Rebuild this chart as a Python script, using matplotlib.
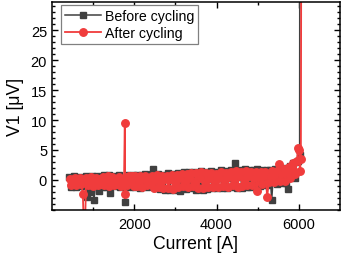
#!/usr/bin/env python3
"""
V1 voltage versus current, before and after cycling
"""

import matplotlib
matplotlib.use("Agg")
import matplotlib.pyplot as plt
from matplotlib.ticker import FixedLocator, MultipleLocator

plt.rcParams['font.family'] = ['Liberation Sans', 'DejaVu Sans']

# before cycling : current [A] and V1 [uV]
current_before = [420, 460, 500, 540, 580, 620, 660, 700, 740, 780,
                  820, 860, 900, 940, 980, 1020, 1060, 1100, 1140, 1180,
                  1220, 1260, 1300, 1340, 1380, 1420, 1460, 1500, 1540, 1580,
                  1620, 1660, 1700, 1740, 1780, 1820, 1860, 1900, 1940, 1980,
                  2020, 2060, 2100, 2140, 2180, 2220, 2260, 2300, 2340, 2380,
                  2420, 2460, 2500, 2540, 2580, 2620, 2660, 2700, 2740, 2780,
                  2820, 2860, 2900, 2940, 2980, 3020, 3060, 3100, 3140, 3180,
                  3220, 3260, 3300, 3340, 3380, 3420, 3460, 3500, 3540, 3580,
                  3620, 3660, 3700, 3740, 3780, 3820, 3860, 3900, 3940, 3980,
                  4020, 4060, 4100, 4140, 4180, 4220, 4260, 4300, 4340, 4380,
                  4420, 4460, 4500, 4540, 4580, 4620, 4660, 4700, 4740, 4780,
                  4820, 4860, 4900, 4940, 4980, 5020, 5060, 5100, 5140, 5180,
                  5220, 5260, 5300, 5340, 5380, 5420, 5460, 5500, 5540, 5580,
                  5620, 5660, 5700, 5740, 5780, 5820, 5860, 5900, 5940, 5980,
                  6020, 6025]
v1_before = [0.5, -1.1, -0.2, 0.6, -1.2, -0.4, 0.5, -1.0, 0.2, -0.8,
             0.6, -2.8, -0.1, -2.0, 0.7, -3.3, -0.5, 0.7, -1.8, 0.2,
             -1.1, 0.8, -0.3, -1.2, 0.8, -2.1, 0.3, -1.0, 0.7, -0.4,
             0.8, -1.2, 0.1, -0.8, -3.7, 0.8, 0.4, -1.2, 0.0, 0.8,
             -1.2, 0.9, -0.1, -1.3, 0.8, -0.4, 1.0, -1.1, 0.3, -0.8,
             1.0, 1.8, -1.4, 0.2, 1.0, -1.5, -0.4, 0.9, -1.6, 0.4,
             1.1, -1.7, 0.1, 1.0, -1.6, -0.5, 1.2, -1.8, 0.3, -1.1,
             1.3, -1.5, 0.0, 1.4, -1.3, -0.4, 1.3, -1.6, 0.2, -1.0,
             1.5, -1.6, -0.3, 1.4, -1.5, 0.2, 1.5, -1.4, -0.2, 1.3,
             -1.4, 0.3, 1.6, -1.3, -0.1, 1.5, -1.4, 0.4, 1.6, -1.2,
             0.1, 2.9, -1.3, 0.5, 1.7, -1.3, 0.0, 1.8, -1.2, 1.6,
             -1.1, 0.3, 1.6, -0.9, 1.9, 0.4, -1.0, 1.7, -0.8, 0.5,
             1.7, -0.8, 1.6, -3.4, 0.6, 1.8, -0.6, 0.4, 1.9, -0.5,
             2.0, 0.5, -0.5, -1.5, 2.3, 0.9, 2.8, 0.3, 3.0, 3.2,
             4.2, 60.0]

# after cycling
current_after = [430, 470, 510, 550, 590, 630, 670, 710, 750, 790,
                 830, 870, 910, 950, 990, 1030, 1070, 1110, 1150, 1190,
                 1230, 1270, 1310, 1350, 1390, 1430, 1470, 1510, 1550, 1590,
                 1630, 1670, 1710, 1750, 1770, 1780, 1790, 1830, 1870, 1910, 1950, 1990,
                 2030, 2070, 2110, 2150, 2190, 2230, 2270, 2310, 2350, 2390,
                 2430, 2470, 2510, 2550, 2590, 2630, 2670, 2710, 2750, 2790,
                 2830, 2870, 2910, 2950, 2990, 3030, 3070, 3110, 3150, 3190,
                 3230, 3270, 3310, 3350, 3390, 3430, 3470, 3510, 3550, 3590,
                 3630, 3670, 3710, 3750, 3790, 3830, 3870, 3910, 3950, 3990,
                 4030, 4070, 4110, 4150, 4190, 4230, 4270, 4310, 4350, 4390,
                 4430, 4470, 4510, 4550, 4590, 4630, 4670, 4710, 4750, 4790,
                 4830, 4870, 4910, 4950, 4990, 5030, 5070, 5110, 5150, 5190,
                 5230, 5270, 5310, 5350, 5390, 5430, 5470, 5510, 5550, 5590,
                 5630, 5670, 5710, 5750, 5790, 5830, 5870, 5910, 5950, 5990,
                 6010, 6030, 6050, 6065]
v1_after = [0.2, -0.8, -0.3, 0.3, -0.9, -0.1, 0.3, -0.7, -2.3, -12.0,
            0.4, -0.9, -0.2, 0.5, -1.0, -0.4, 0.4, -0.8, 0.1, -0.6,
            0.5, -0.9, 0.0, 0.6, -1.0, -0.3, 0.5, -0.9, 0.2, -0.6,
            0.5, -1.0, 0.1, -0.7, 9.5, -2.3, 0.5, -0.9, 0.6, -0.3, 0.6, -1.0,
            0.6, -1.0, -0.1, 0.7, -1.1, 0.1, 0.6, -0.9, 0.3, -0.6,
            0.7, -1.3, 0.0, 0.8, -1.2, -0.4, 0.6, -1.4, 0.2, 0.7,
            -1.3, 0.2, 0.8, -1.5, -0.3, 0.9, -1.2, 0.4, 1.0, -1.0,
            -0.2, 1.0, -1.2, 0.4, 1.2, -1.0, -0.3, 1.1, -1.3, 0.3,
            1.3, -1.3, -0.2, 1.1, -1.1, 0.3, 1.2, -1.2, 0.0, 1.0,
            -1.1, 0.4, 1.3, -1.0, 0.2, 1.2, -1.2, 0.5, 1.4, -0.9,
            0.3, 1.5, -1.1, 0.6, 1.4, -1.0, 0.1, 1.5, -0.9, 0.7,
            1.3, -0.8, 0.3, 1.3, -1.8, 0.5, 1.4, -0.7, 0.6, 1.4,
            -2.9, -0.4, 0.6, 1.5, -0.4, 0.8, 1.5, 2.7, -0.2, 1.0,
            1.8, -0.1, 1.2, 2.2, 0.4, 1.9, 2.9, 1.0, 3.2, 5.4,
            5.0, 1.5, 3.5, 60.0]

fig = plt.figure(figsize=(3.42, 2.55), dpi=100)
ax = fig.add_axes([0.152, 0.173, 0.842, 0.815])

ax.plot(current_before, v1_before, color='#404040', marker='s', markersize=4.1,
        linewidth=1.1, label='Before cycling')
ax.plot(current_after, v1_after, color='#f03c3c', marker='o', markersize=5.4,
        linewidth=1.3, label='After cycling')

ax.set_xlim(0, 7000)
ax.set_ylim(-5, 29.7)
ax.xaxis.set_major_locator(FixedLocator([2000, 4000, 6000]))
ax.xaxis.set_minor_locator(FixedLocator([1000, 3000, 5000]))
ax.yaxis.set_major_locator(FixedLocator([0, 5, 10, 15, 20, 25]))
ax.yaxis.set_minor_locator(MultipleLocator(1))
ax.tick_params(which='both', direction='in', top=True, right=True, labelsize=10.5, width=1)
ax.tick_params(axis='x', which='major', pad=5)
ax.tick_params(which='major', length=4)
ax.tick_params(which='minor', length=2)
for s in ax.spines.values():
    s.set_linewidth(1.1)

ax.set_xlabel('Current [A]', fontsize=12.7, labelpad=3)
ax.set_ylabel('V1 [μV]', fontsize=12.7, labelpad=5)

leg = ax.legend(loc='upper left', bbox_to_anchor=(0.031, 0.988), borderaxespad=0,
                fontsize=10.2, handlelength=2.5, fancybox=False,
                borderpad=0.3, labelspacing=0.2, handletextpad=0.3, framealpha=1)
leg.get_frame().set_edgecolor('#808080')
leg.get_frame().set_linewidth(0.9)

fig.savefig('out.png', dpi=100)
